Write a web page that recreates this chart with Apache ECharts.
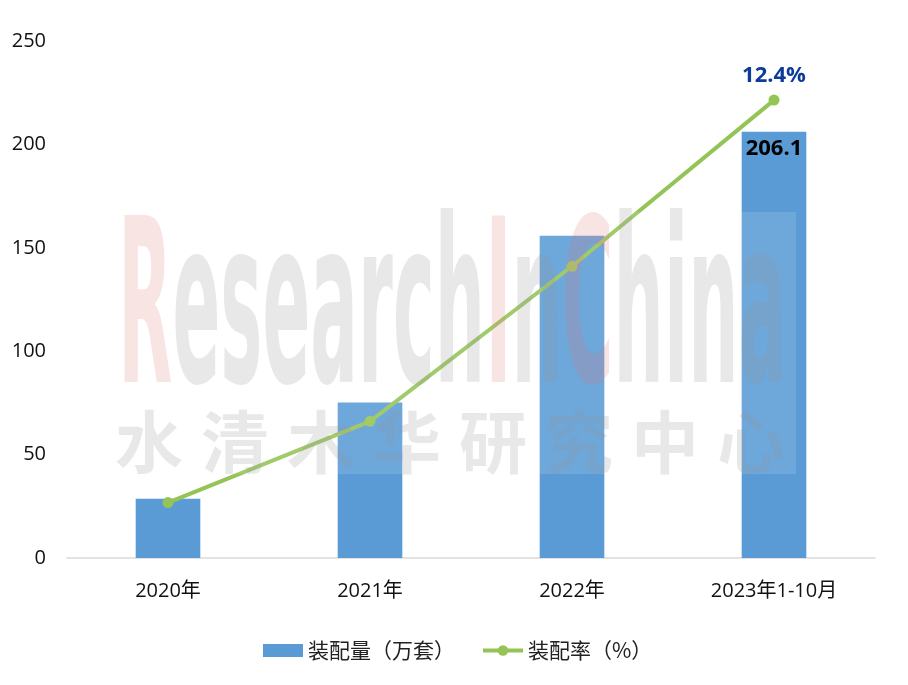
<!DOCTYPE html>
<html><head><meta charset="utf-8">
<script src="https://cdn.jsdelivr.net/npm/echarts@6/dist/echarts.min.js"></script>
<style>html,body{margin:0;padding:0;background:#fff}#c{width:908px;height:685px}</style>
</head><body><div id="c"></div>
<script>
const categories = ['2020年', '2021年', '2022年', '2023年1-10月'];
const volume = [28.6, 75.2, 155.8, 206.1];       // 装配量（万套）
const rate = [1.5, 3.7, 7.9, 12.4];              // 装配率（%）
const yTicks = [0, 50, 100, 150, 200, 250];

const FONT = '"Open Sans", "Noto Sans CJK SC", sans-serif';
const CJK = '"Noto Sans CJK SC", sans-serif';
const chart = echarts.init(document.getElementById('c'));

const wmChars = '水清木华研究中心'.split('');
const wm = [
  { type: 'rect', shape: { x: 120, y: 212, width: 676, height: 262 }, style: { fill: 'rgba(255,255,255,0.12)' }, z: 100, silent: true },
  { type: 'text', x: 118, y: 437, z: 101, silent: true, scaleX: 0.31,
    style: { text: '{p|R}{g|esearch}{p|I}{g|n}{p|C}{g|hina}', textVerticalAlign: 'bottom',
      rich: {
        p: { fill: 'rgba(225,120,120,0.2)', fontFamily: '"DejaVu Sans", sans-serif', fontWeight: 'bold', fontSize: 228 },
        g: { fill: 'rgba(150,150,150,0.22)', fontFamily: '"DejaVu Sans", sans-serif', fontWeight: 'bold', fontSize: 228 }
      } } }
].concat(wmChars.map((ch, i) => ({
  type: 'text', x: 115 + i * 86, y: 408, z: 101, silent: true,
  style: { text: ch, fill: 'rgba(150,150,150,0.22)', fontFamily: CJK, fontSize: 68, fontWeight: 'bold' }
})));

chart.setOption({
  animation: false,
  textStyle: { fontFamily: FONT },
  grid: { left: 67, right: 33, top: 41, bottom: 127 },
  legend: {
    left: 258, bottom: 19, itemGap: 26, itemWidth: 40, itemHeight: 13,
    textStyle: { fontSize: 21, color: '#222', fontFamily: CJK },
    data: [
      { name: '装配量（万套）', icon: 'rect' },
      { name: '装配率（%）', lineStyle: { width: 4 } }
    ]
  },
  xAxis: {
    type: 'category', data: categories,
    axisLine: { lineStyle: { color: '#d9d9d9', width: 1.5 } },
    axisTick: { show: false },
    axisLabel: { fontSize: 20, color: '#111', margin: 23, fontFamily: FONT }
  },
  yAxis: [
    { type: 'value', min: 0, max: 250, interval: 50,
      splitLine: { show: false },
      axisLabel: { fontSize: 20, color: '#111', margin: 21, fontFamily: FONT,
        formatter: v => yTicks.includes(v) ? String(v) : '' } },
    { type: 'value', min: 0, max: 14, show: false, splitLine: { show: false } }
  ],
  series: [
    { name: '装配量（万套）', type: 'bar', barWidth: '32%', yAxisIndex: 0,
      itemStyle: { color: '#5b9bd5' },
      data: volume.map((v, i) => i === volume.length - 1 ? {
        value: v, label: { show: true, position: 'insideTop', distance: 6, formatter: '{c}',
          fontSize: 22, fontWeight: 'bold', color: '#000', fontFamily: FONT } } : v)
    },
    { name: '装配率（%）', type: 'line', yAxisIndex: 1,
      symbol: 'circle', symbolSize: 11, lineStyle: { width: 4, color: '#94c356' },
      itemStyle: { color: '#94c356' },
      data: rate.map((v, i) => i === rate.length - 1 ? {
        value: v, label: { show: true, position: 'top', distance: 8, formatter: '{c}%',
          fontSize: 22, fontWeight: 'bold', color: '#0b3c9a', fontFamily: FONT } } : v)
    }
  ],
  graphic: wm
});
</script></body></html>
